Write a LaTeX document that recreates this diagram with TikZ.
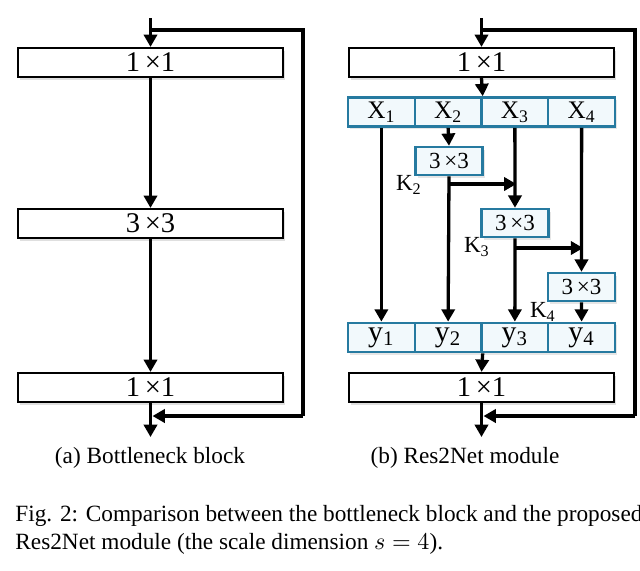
\documentclass[tikz,border=0pt]{standalone}
\usepackage{fontspec}
\setmainfont{Liberation Serif}
\usetikzlibrary{arrows.meta,shadows}

\definecolor{cellblue}{RGB}{38,122,160}
\definecolor{cellfill}{RGB}{242,249,252}

\tikzset{
  wide/.style={draw, line width=1.1pt, fill=white, minimum width=4.24cm,
    minimum height=0.46cm, inner sep=0pt, font=\fontsize{13}{13}\selectfont,
    drop shadow={shadow xshift=1pt, shadow yshift=-1.2pt, opacity=0.25}},
  cell/.style={draw=cellblue, line width=1.1pt, fill=cellfill, minimum width=1.068cm,
    minimum height=0.47cm, inner sep=0pt,
    drop shadow={shadow xshift=1pt, shadow yshift=-1.2pt, opacity=0.2}},
  conv/.style={cell, minimum width=1.07cm, minimum height=0.45cm,
    font=\fontsize{10.5}{11}\selectfont},
  arr/.style={line width=1.5pt, -{Triangle[length=5.6pt,width=6pt]}},
  wire/.style={line width=1.5pt},
  klabel/.style={font=\fontsize{10.5}{11}\selectfont, inner sep=0pt},
  captext/.style={font=\fontsize{10.6}{12}\selectfont, inner sep=0pt}
}

\begin{document}
\begin{tikzpicture}[x=0.016cm, y=-0.016cm]
\useasboundingbox (0,0) rectangle (640,570);
%% (a) bottleneck block
\node[wide] (a11) at (150.5,62.5) {1\,×1};
\node[wide] (a33) at (150.5,223.5) {3\,×3};
\node[wide] (a11b) at (150.5,387.5) {1\,×1};
\coordinate (ain) at (150.5,18);
\coordinate (asplit) at (150.5,30);
\coordinate (atop) at (303,30);
\coordinate (abot) at (303,416);
\coordinate (aend) at (152.5,416);
\coordinate (aout) at (150.5,437);
\draw[arr] (ain) -- (a11.north);
\draw[arr] (a11.south) -- (a33.north);
\draw[arr] (a33.south) -- (a11b.north);
\draw[arr] (a11b.south) -- (aout);
\draw[wire] (asplit) -- (atop) -- (abot);
\draw[arr] (abot) -- (aend);
\node[captext] (capa) at (150,458) {(a) Bottleneck block};

%% (b) Res2Net module
\node[wide] (b11) at (481.5,62.5) {1\,×1};
\foreach \i in {1,...,4}{
  \node[cell, font=\fontsize{11.5}{12}\selectfont] (x\i) at ({348+66.75*(\i-0.5)},112) {X\textsubscript{\i}};
  \node[cell, font=\fontsize{13.5}{14}\selectfont] (y\i) at ({348+66.75*(\i-0.5)},337.5) {y\textsubscript{\i}};
}
\node[conv] (k2) at (449,161) {3\,×3};
\node[conv] (k3) at (515,223) {3\,×3};
\node[conv] (k4) at (581.5,287) {3\,×3};
\node[klabel] (k2lab) at (409,185) {K\textsubscript{2}};
\node[klabel] (k3lab) at (477,247) {K\textsubscript{3}};
\node[klabel] (k4lab) at (543,312) {K\textsubscript{4}};
\node[wide] (b11b) at (481.5,387.5) {1\,×1};
\coordinate (bin) at (481.5,18);
\coordinate (bsplit) at (481.5,30);
\coordinate (btop) at (635,30);
\coordinate (bbot) at (635,416);
\coordinate (bend) at (483.5,416);
\coordinate (bout) at (481.5,437);
\coordinate (j2) at (449,184);
\coordinate (j3) at (515,248);
\draw[arr] (bin) -- (b11.north);
\draw[arr] (b11.south) -- (x2.north east);
\draw[arr] (x1.south) -- (y1.north);
\draw[arr] (x2.south) -- (k2.north);
\draw[arr] (k2.south) -- (y2.north);
\draw[arr] (j2) -- ([xshift=0.7pt]x3.south |- j2);
\draw[arr] (x3.south) -- (k3.north);
\draw[arr] (k3.south) -- (y3.north);
\draw[arr] (j3) -- ([xshift=0.7pt]x4.south |- j3);
\draw[arr] (x4.south) -- (k4.north);
\draw[arr] (k4.south) -- (y4.north);
\draw[arr] (y2.south east) -- (b11b.north);
\draw[arr] (b11b.south) -- (bout);
\draw[wire] (bsplit) -- (btop) -- (bbot);
\draw[arr] (bbot) -- (bend);
\node[captext] (capb) at (465,458) {(b) Res2Net module};

%% figure caption
\node[captext, anchor=base west] (fig1) at (15,521) {Fig. 2: Comparison between the bottleneck block and the proposed};
\node[captext, anchor=base west] (fig2) at (15,549) {Res2Net module (the scale dimension $s=4$).};
\end{tikzpicture}
\end{document}
